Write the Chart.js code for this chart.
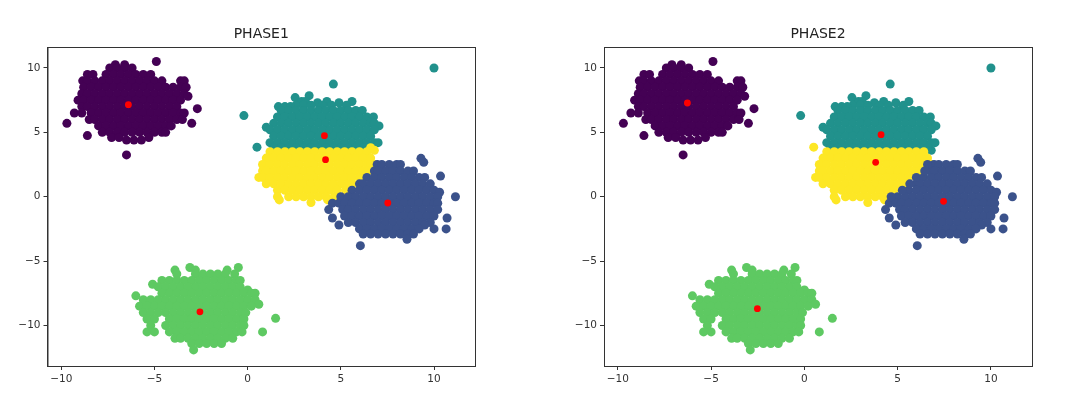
<!DOCTYPE html>
<html lang="en">
<head>
    <meta charset="UTF-8">
    <title>PHASE1 and PHASE2</title>
    <script src="https://cdn.jsdelivr.net/npm/chart.js"></script>
    <style>
        html, body { margin: 0; padding: 0; background: #fff; overflow: hidden; }
        canvas { position: absolute; top: 0; filter: blur(0.6px); }
        #phase1 { left: 0; }
        #phase2 { left: 540px; }
    </style>
</head>
<body>
    <canvas id="phase1" width="540" height="417"></canvas>
    <canvas id="phase2" width="540" height="417"></canvas>

    <script>
        const phaseTitles = ['PHASE1', 'PHASE2'];
        const xTicks = [-10, -5, 0, 5, 10];
        const yTicks = [-10, -5, 0, 5, 10];

        // Points, one row per y: [y, x, x, x, ...]
        const purpleRows = [
            [10.5, -4.9],
            [10.25, -7.1, -6.6],
            [10.0, -7.4, -7.0, -6.6, -6.2],
            [9.5, -8.6, -8.3, -7.6, -7.2, -6.8, -6.4, -6.0, -5.6, -5.2],
            [9.0, -8.85, -8.6, -8.2, -7.8, -7.4, -7.0, -6.6, -6.2, -5.8, -5.4, -5.0, -4.6, -3.6, -3.4],
            [8.5, -8.8, -8.4, -8.0, -7.6, -7.2, -6.8, -6.4, -6.0, -5.6, -5.2, -4.8, -4.4, -4.0, -3.6, -3.3],
            [8.0, -8.9, -8.6, -8.2, -7.8, -7.4, -7.0, -6.6, -6.2, -5.8, -5.4, -5.0, -4.6, -4.2, -3.8, -3.4],
            [7.8, -3.2],
            [7.5, -9.1, -8.8, -8.4, -8.0, -7.6, -7.2, -6.8, -6.4, -6.0, -5.6, -5.2, -4.8, -4.4, -4.0, -3.6],
            [7.0, -8.9, -8.6, -8.2, -7.8, -7.4, -7.0, -6.6, -6.2, -5.8, -5.4, -5.0, -4.6, -4.2, -3.8],
            [6.84, -2.7],
            [6.5, -9.3, -8.9, -8.4, -8.0, -7.6, -7.2, -6.8, -6.4, -6.0, -5.6, -5.2, -4.8, -4.4, -4.0, -3.6, -3.4],
            [6.0, -8.5, -8.2, -7.8, -7.4, -7.0, -6.6, -6.2, -5.8, -5.4, -5.0, -4.6, -4.2, -3.8, -3.5],
            [5.7, -9.7, -3.0],
            [5.5, -8.0, -7.6, -7.2, -6.8, -6.4, -6.0, -5.6, -5.2, -4.8, -4.4, -4.1],
            [5.0, -7.8, -7.4, -7.0, -6.6, -6.2, -5.8, -5.4, -5.0, -4.6, -4.4],
            [4.75, -8.6],
            [4.6, -7.3, -6.9, -5.3],
            [4.4, -6.5, -6.1, -5.7],
            [3.25, -6.5]
        ];

        const greenRows = [
            [-5.5, -3.1, -0.5],
            [-5.7, -3.9, -2.8, -1.1],
            [-6.0, -3.8, -2.8, -2.4, -2.0, -1.6, -1.2, -0.7],
            [-6.5, -4.6, -4.2, -3.8, -3.4, -3.0, -2.6, -2.2, -1.8, -1.4, -1.0, -0.6, -0.4],
            [-6.8, -5.1],
            [-7.0, -4.8, -4.4, -4.0, -3.6, -3.2, -2.8, -2.4, -2.0, -1.6, -1.2, -0.8, -0.4],
            [-7.25, 0.0],
            [-7.5, -4.6, -4.2, -3.8, -3.4, -3.0, -2.6, -2.2, -1.8, -1.4, -1.0, -0.6, -0.2, 0.2, 0.4],
            [-7.7, -6.0],
            [-8.0, -5.6, -5.2, -4.8, -4.4, -4.0, -3.6, -3.2, -2.8, -2.4, -2.0, -1.6, -1.2, -0.8, -0.4, 0.0, 0.4],
            [-8.35, 0.6],
            [-8.5, -5.8, -5.4, -5.0, -4.6, -4.2, -3.8, -3.4, -3.0, -2.6, -2.2, -1.8, -1.4, -1.0, -0.6, -0.2, 0.2],
            [-9.0, -5.6, -5.2, -4.8, -4.4, -4.0, -3.6, -3.2, -2.8, -2.4, -2.0, -1.6, -1.2, -0.8, -0.4, -0.1],
            [-9.45, 1.5],
            [-9.5, -5.4, -5.0, -4.2, -3.8, -3.4, -3.0, -2.6, -2.2, -1.8, -1.4, -1.0, -0.6, -0.2],
            [-10.0, -5.2, -4.4, -4.0, -3.6, -3.2, -2.8, -2.4, -2.0, -1.6, -1.2, -0.8, -0.4, -0.2],
            [-10.5, -5.4, -5.0, -4.2, -3.8, -3.4, -3.0, -2.6, -2.2, -1.8, -1.4, -1.0, -0.6, -0.3, 0.8],
            [-11.0, -3.9, -3.6, -3.2, -2.8, -2.4, -2.0, -1.6, -1.2, -0.8],
            [-11.4, -3.0, -2.6, -2.2, -1.8, -1.4],
            [-11.9, -2.9]
        ];

        const tealRows = [
            [10.0, 10.0],
            [8.75, 4.6],
            [7.85, 3.3],
            [7.7, 2.55],
            [7.4, 2.9, 3.1, 4.25, 5.6],
            [7.3, 3.75, 4.9],
            [7.1, 2.6, 3.0, 3.4, 4.0, 4.5, 5.3],
            [7.0, 1.65, 2.0, 2.3],
            [6.7, 1.8, 2.2, 2.6, 3.0, 3.4, 3.8, 4.2, 4.6, 5.0, 5.4, 5.8, 6.15],
            [6.3, -0.2],
            [6.2, 1.6, 2.0, 2.4, 2.8, 3.2, 3.6, 4.0, 4.4, 4.8, 5.2, 5.6, 6.0, 6.4, 6.75],
            [5.7, 1.4, 1.8, 2.2, 2.6, 3.0, 3.4, 3.8, 4.2, 4.6, 5.0, 5.4, 5.8, 6.2, 6.6, 6.8],
            [5.5, 7.05],
            [5.4, 1.0],
            [5.2, 1.2, 1.6, 2.0, 2.4, 2.8, 3.2, 3.6, 4.0, 4.4, 4.8, 5.2, 5.6, 6.0, 6.4, 6.8],
            [4.7, 1.4, 1.8, 2.2, 2.6, 3.0, 3.4, 3.8, 4.2, 4.6, 5.0, 5.4, 5.8, 6.2, 6.6],
            [4.2, 1.2, 1.6, 2.0, 2.4, 2.8, 3.2, 3.6, 4.0, 4.4, 4.8, 5.2, 5.6, 6.0, 6.4, 6.8, 7.0],
            [3.8, 1.4, 1.8, 2.2, 2.6, 3.0, 3.4, 3.8, 4.2, 4.6, 5.0, 5.4, 5.8, 6.2]
        ];

        const yellowRows = [
            [3.5, 1.2, 1.6, 2.0, 2.4, 2.8, 3.2, 3.6, 4.0, 4.4, 4.8, 5.2, 5.6, 6.0, 6.4],
            [3.0, 1.0, 1.4, 1.8, 2.2, 2.6, 3.0, 3.4, 3.8, 4.2, 4.6, 5.0, 5.4, 5.8, 6.2, 6.6],
            [2.5, 0.8, 1.2, 1.6, 2.0, 2.4, 2.8, 3.2, 3.6, 4.0, 4.4, 4.8, 5.2, 5.6, 6.0, 6.4, 6.8],
            [2.0, 0.8, 1.0, 1.4, 1.8, 2.2, 2.6, 3.0, 3.4, 3.8, 4.2, 4.6, 5.0, 5.4, 5.8, 6.2],
            [1.5, 0.6, 0.8, 1.2, 1.6, 2.0, 2.4, 2.8, 3.2, 3.6, 4.0, 4.4, 4.8, 5.2, 5.6],
            [1.0, 1.0, 1.4, 1.8, 2.2, 2.6, 3.0, 3.4, 3.8, 4.2, 4.6, 5.0, 5.4],
            [0.5, 1.6, 2.0, 2.4, 2.8, 3.2, 3.6, 4.0, 4.4, 4.8],
            [0.0, 1.6, 2.2, 2.6, 3.0, 3.4, 3.8, 4.2],
            [-0.25, 1.7, 4.3],
            [-0.45, 3.4]
        ];

        const blueRows = [
            [2.98, 9.3],
            [2.67, 9.45],
            [2.5, 6.95, 7.2, 7.6, 8.0, 8.2],
            [2.0, 6.8, 7.0, 7.4, 7.8, 8.2, 8.6, 8.9],
            [1.6, 10.35],
            [1.5, 6.4, 6.8, 7.2, 7.6, 8.0, 8.4, 8.8, 9.2, 9.5],
            [1.0, 6.0, 6.2, 6.6, 7.0, 7.4, 7.8, 8.2, 8.6, 9.0, 9.4, 9.8],
            [0.5, 5.6, 6.0, 6.4, 6.8, 7.2, 7.6, 8.0, 8.4, 8.8, 9.2, 9.6, 10.0],
            [0.35, 10.3],
            [0.0, 5.0, 5.4, 5.8, 6.2, 6.6, 7.0, 7.4, 7.8, 8.2, 8.6, 9.0, 9.4, 9.8, 10.2, 11.15],
            [-0.5, 4.55, 4.9, 5.2, 5.6, 6.0, 6.4, 6.8, 7.2, 7.6, 8.0, 8.4, 8.8, 9.2, 9.6, 10.0, 10.2],
            [-1.0, 4.35, 5.1, 5.4, 5.8, 6.2, 6.6, 7.0, 7.4, 7.8, 8.2, 8.6, 9.0, 9.4, 9.8, 10.2],
            [-1.5, 5.2, 5.6, 6.0, 6.4, 6.8, 7.2, 7.6, 8.0, 8.4, 8.8, 9.2, 9.6, 10.0],
            [-1.65, 4.55, 10.7],
            [-2.0, 5.4, 5.8, 6.2, 6.6, 7.0, 7.4, 7.8, 8.2, 8.6, 9.0, 9.4, 9.8],
            [-2.2, 4.9, 9.5],
            [-2.5, 6.0, 6.4, 6.8, 7.2, 7.6, 8.0, 8.4, 8.8, 9.2, 10.0, 10.65],
            [-2.9, 6.2, 6.6, 7.0, 7.4, 7.8, 8.2, 8.6, 8.9],
            [-3.3, 8.55],
            [-3.8, 6.05]
        ];

        // Points that change cluster between the two phases
        const tealToYellowRows = [
            [3.85, 0.5]
        ];
        const yellowToTealRows = [
            [3.6, 6.8],
            [3.8, 6.6]
        ];
        const yellowToBlueRows = [
            [2.5, 6.6],
            [2.0, 6.45],
            [1.5, 6.0],
            [1.0, 5.65],
            [0.5, 5.25],
            [0.0, 4.65]
        ];

        const centroidsPhase1 = [[-6.4, 7.15], [4.12, 4.74], [4.18, 2.88], [7.52, -0.49], [-2.56, -8.94]];
        const centroidsPhase2 = [[-6.27, 7.28], [4.11, 4.82], [3.82, 2.67], [7.46, -0.36], [-2.52, -8.7]];

        const toPoints = rows => rows.flatMap(([y, ...xs]) => xs.map(x => ({ x, y })));

        function scatterSet(points, color, radius) {
            return {
                data: points,
                backgroundColor: color,
                pointRadius: radius,
                pointBorderWidth: 0,
                pointHoverRadius: radius
            };
        }

        // matplotlib style box round the axes
        const framePlugin = {
            id: 'frame',
            afterDraw(chart) {
                const { ctx, chartArea: a } = chart;
                ctx.save();
                ctx.strokeStyle = '#333';
                ctx.lineWidth = 1;
                ctx.strokeRect(a.left + 0.5, a.top + 0.5, a.right - a.left, a.bottom - a.top);
                ctx.restore();
            }
        };

        function makeChart(canvasId, title, centroids, sets, box) {
            const axisStyle = {
                border: { color: '#333' },
                grid: { drawOnChartArea: false, color: '#333', tickLength: 4 }
            };
            const tickFont = { family: 'DejaVu Sans', size: 10.5 };
            new Chart(document.getElementById(canvasId), {
                type: 'scatter',
                data: {
                    datasets: [
                        scatterSet(centroids.map(([x, y]) => ({ x, y })), '#ff0000', 3.4),
                        scatterSet(sets.blue, '#3b528b', 4.5),
                        scatterSet(sets.yellow, '#fde725', 4.5),
                        scatterSet(sets.teal, '#21918c', 4.5),
                        scatterSet(sets.green, '#5ec962', 4.5),
                        scatterSet(sets.purple, '#440154', 4.5)
                    ]
                },
                options: {
                    responsive: false,
                    animation: false,
                    layout: { padding: { right: box.right } },
                    plugins: {
                        legend: { display: false },
                        tooltip: { enabled: false },
                        title: {
                            display: true,
                            fullSize: false,
                            text: title,
                            color: '#222',
                            font: { family: 'DejaVu Sans', size: 14, weight: 'normal' },
                            padding: { top: 26, bottom: 4.2 }
                        }
                    },
                    scales: {
                        x: {
                            ...axisStyle,
                            type: 'linear',
                            min: -10.74,
                            max: 12.2,
                            afterBuildTicks: s => { s.ticks = xTicks.map(value => ({ value })); },
                            afterFit: s => { s.height = 51; },
                            ticks: {
                                color: '#333',
                                font: tickFont,
                                maxRotation: 0,
                                padding: 3,
                                callback: v => String(v).replace('-', '\u2212')
                            }
                        },
                        y: {
                            ...axisStyle,
                            type: 'linear',
                            min: -13.15,
                            max: 11.63,
                            afterBuildTicks: s => { s.ticks = yTicks.map(value => ({ value })); },
                            afterFit: s => { s.width = box.left; },
                            ticks: {
                                color: '#333',
                                font: tickFont,
                                padding: 3,
                                callback: v => String(v).replace('-', '\u2212')
                            }
                        }
                    }
                },
                plugins: [framePlugin]
            });
        }

        const purple = toPoints(purpleRows);
        const green = toPoints(greenRows);
        const teal = toPoints(tealRows);
        const yellow = toPoints(yellowRows);
        const blue = toPoints(blueRows);
        const tealToYellow = toPoints(tealToYellowRows);
        const yellowToTeal = toPoints(yellowToTealRows);
        const yellowToBlue = toPoints(yellowToBlueRows);

        makeChart('phase1', phaseTitles[0], centroidsPhase1, {
            purple, green, blue,
            teal: teal.concat(tealToYellow),
            yellow: yellow.concat(yellowToTeal, yellowToBlue)
        }, { left: 47.5, right: 65 });

        makeChart('phase2', phaseTitles[1], centroidsPhase2, {
            purple, green,
            blue: blue.concat(yellowToBlue),
            teal: teal.concat(yellowToTeal),
            yellow: yellow.concat(tealToYellow)
        }, { left: 64, right: 48 });
    </script>
</body>
</html>
